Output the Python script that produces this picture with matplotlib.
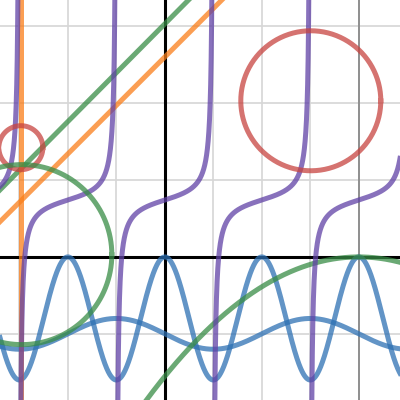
import numpy as np
import matplotlib
matplotlib.use("Agg")
import matplotlib.pyplot as plt

# data
xlim = [-3.4, 4.85]
ylim = [-1.86, 3.34]
cos_big_amp = 0.8
cos_small = [0.2, -1.0]        # amplitude, offset
tan_params = [0.74, 0.13]      # center y, scale
green_line = [3.03, 0.635]     # intercept, slope
orange_line = [2.6, 0.63]
orange_vx = -2.97
parabola = [4.0, 0.0, 0.097]   # vertex x, vertex y, a
red_small = [-2.97, 1.42, 22]  # cx, cy, radius px
red_big = [3.01, 2.03, 70]
green_circle = [-2.95, 0.03, 90]
dark_vx = 4.0

W, H = 400, 400
sx = W / (xlim[1] - xlim[0]); sy = H / (ylim[1] - ylim[0])

fig = plt.figure(figsize=(4, 4), dpi=100)
ax = fig.add_axes([0, 0, 1, 1])
ax.set_xlim(xlim); ax.set_ylim(ylim)
ax.axis('off')
for gx in range(-3, 5):
    ax.axvline(gx, color='#d6d6d6', lw=1.2, zorder=0)
for gy in range(-1, 4):
    ax.axhline(gy, color='#d6d6d6', lw=1.2, zorder=0)
ax.axvline(dark_vx, color='#8a8a8a', lw=1.3, zorder=1)
ax.axhline(0, color='black', lw=2.2, zorder=2)
ax.axvline(0, color='black', lw=2.2, zorder=2)

lw = 3.6; al = 0.75
RED, BLUE, GREEN, PURPLE, ORANGE = '#c74440', '#2d70b3', '#388c46', '#6042a6', '#fa7e19'
x = np.linspace(xlim[0], xlim[1], 3000)
ax.plot(x, cos_big_amp*np.cos(np.pi*x) - cos_big_amp, color=BLUE, lw=lw, alpha=al, zorder=3)
ax.plot(x, cos_small[0]*np.cos(np.pi*(x+1)/2) + cos_small[1], color=BLUE, lw=lw, alpha=al, zorder=3)
ax.plot(x, green_line[0] + green_line[1]*x, color=GREEN, lw=lw, alpha=al, zorder=3)
ax.plot(x, orange_line[0] + orange_line[1]*x, color=ORANGE, lw=lw, alpha=al, zorder=3)
ax.axvline(orange_vx, color=ORANGE, lw=lw, alpha=al, zorder=3)
ax.plot(x, parabola[1] - parabola[2]*(x-parabola[0])**2, color=GREEN, lw=lw, alpha=al, zorder=3)
for c in [-4, -2, 0, 2, 4]:
    xs = np.linspace(c-0.9995, c+0.9995, 4000)
    ax.plot(xs, tan_params[0] + tan_params[1]*np.tan(np.pi*(xs-c)/2), color=PURPLE, lw=lw, alpha=al, zorder=3)
t = np.linspace(0, 2*np.pi, 400)
for (cx, cy, r), col in [(red_small, RED), (red_big, RED), (green_circle, GREEN)]:
    ax.plot(cx + r/sx*np.cos(t), cy + r/sy*np.sin(t), color=col, lw=lw, alpha=al, zorder=3)
fig.savefig('out.png', dpi=100)
